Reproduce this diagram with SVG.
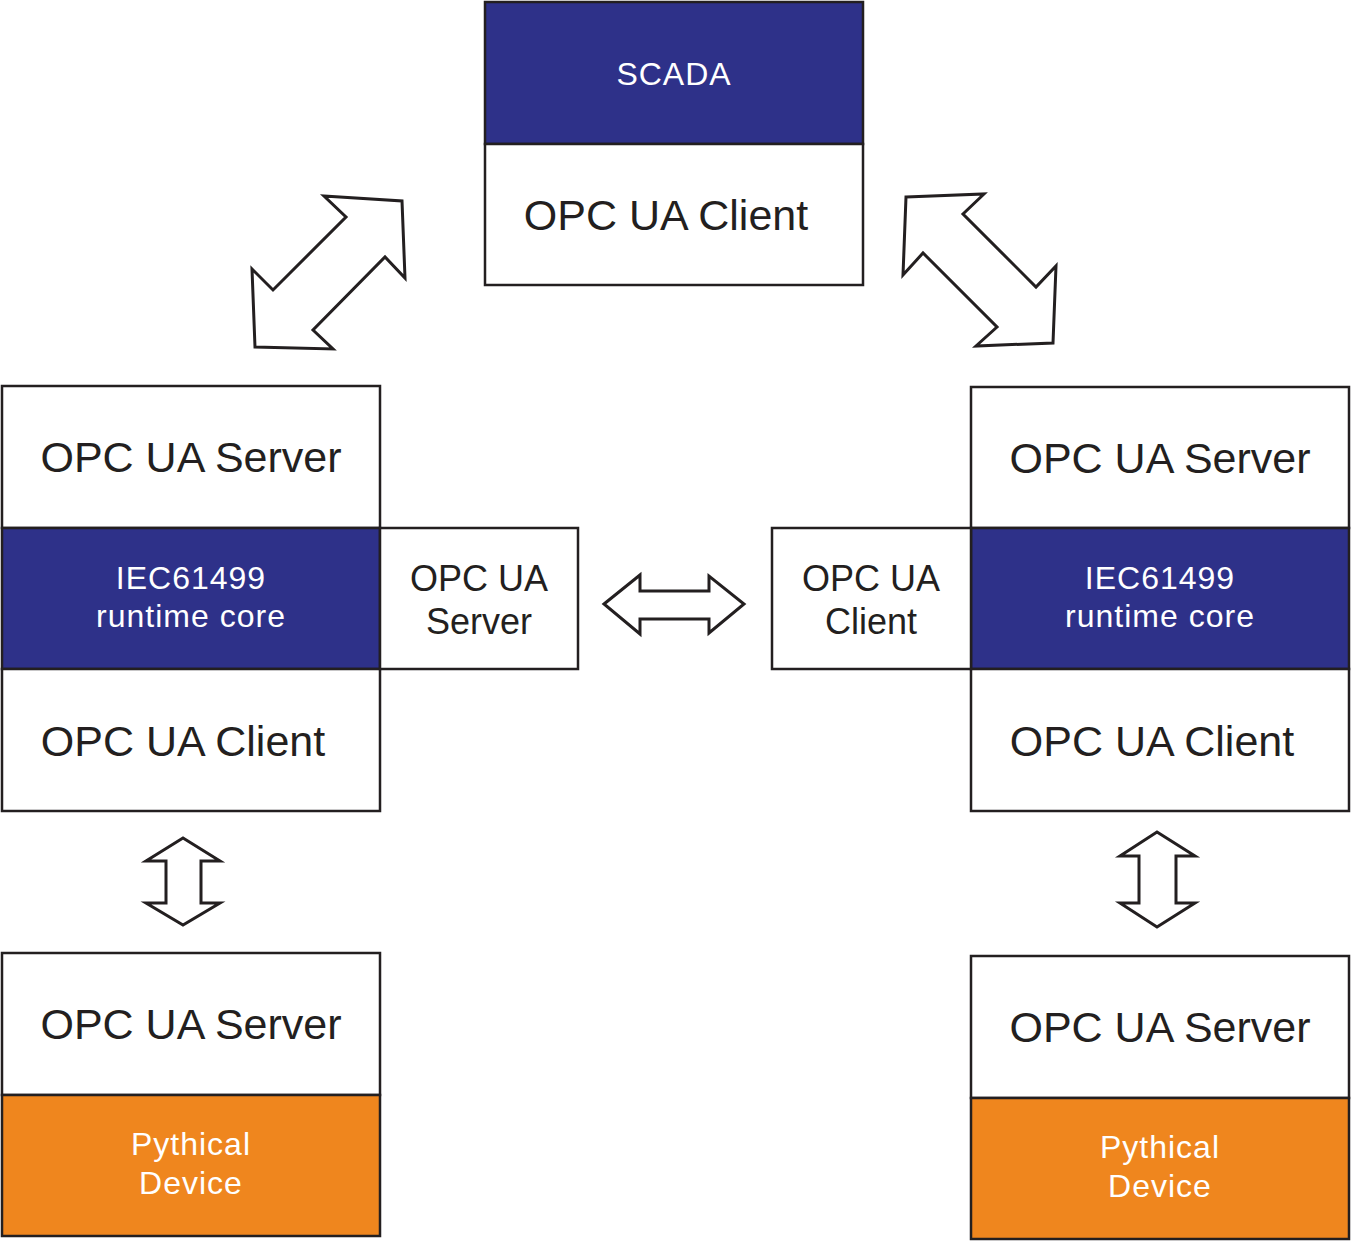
<svg xmlns="http://www.w3.org/2000/svg" width="1351" height="1241" viewBox="0 0 1351 1241">
<style>
.b{fill:#fff;stroke:#231f20;stroke-width:2.5}
.n{fill:#2e3189;stroke:#231f20;stroke-width:2.5}
.o{fill:#ef861e;stroke:#231f20;stroke-width:2.5}
.a{fill:#fff;stroke:#231f20;stroke-width:3;stroke-linejoin:miter}
text{font-family:"Liberation Sans",Arial,sans-serif;text-anchor:middle}
.t{font-size:43px;fill:#231f20}
.m{font-size:36px;fill:#231f20}
.w{font-size:32px;fill:#fff;letter-spacing:1px}
</style>
<rect width="1351" height="1241" fill="#fff"/>
<g id="scada"><rect class="n" x="485" y="2" width="378" height="142"/><text class="w" x="674" y="85">SCADA</text></g>
<g id="scada-client"><rect class="b" x="485" y="144" width="378" height="141"/><text class="t" x="666" y="230">OPC UA Client</text></g>
<g id="l-server"><rect class="b" x="2" y="386" width="378" height="142"/><text class="t" x="191" y="472">OPC UA Server</text></g>
<g id="l-core"><rect class="n" x="2" y="528" width="378" height="141"/><text class="w" x="191" y="589">IEC61499</text><text class="w" x="191" y="627">runtime core</text></g>
<g id="l-client"><rect class="b" x="2" y="669" width="378" height="142"/><text class="t" x="183" y="756">OPC UA Client</text></g>
<g id="l-small"><rect class="b" x="380" y="528" width="198" height="141"/><text class="m" x="479" y="591">OPC UA</text><text class="m" x="479" y="634">Server</text></g>
<g id="lb-server"><rect class="b" x="2" y="953" width="378" height="142"/><text class="t" x="191" y="1039">OPC UA Server</text></g>
<g id="lb-device"><rect class="o" x="2" y="1095" width="378" height="141"/><text class="w" x="191" y="1155">Pythical</text><text class="w" x="191" y="1194">Device</text></g>
<g id="r-server"><rect class="b" x="971" y="387" width="378" height="141"/><text class="t" x="1160" y="473">OPC UA Server</text></g>
<g id="r-core"><rect class="n" x="971" y="528" width="378" height="141"/><text class="w" x="1160" y="589">IEC61499</text><text class="w" x="1160" y="627">runtime core</text></g>
<g id="r-client"><rect class="b" x="971" y="669" width="378" height="142"/><text class="t" x="1152" y="756">OPC UA Client</text></g>
<g id="r-small"><rect class="b" x="772" y="528" width="199" height="141"/><text class="m" x="871" y="591">OPC UA</text><text class="m" x="871" y="634">Client</text></g>
<g id="rb-server"><rect class="b" x="971" y="956" width="378" height="142"/><text class="t" x="1160" y="1042">OPC UA Server</text></g>
<g id="rb-device"><rect class="o" x="971" y="1098" width="378" height="141"/><text class="w" x="1160" y="1158">Pythical</text><text class="w" x="1160" y="1197">Device</text></g>
<g id="connectors">
<polygon class="a" points="324,196 402,201 405,278 385,257 313,330 333,349 255,347 252,269 273,290 346,217"/>
<polygon class="a" points="906,197 984,194 963,214 1036,287 1056,266 1053,343 976,346 997,327 923,253 903,275"/>
<polygon class="a" points="604,604 640,575 640,591 709,591 709,576 744,604 709,633 709,619 640,619 640,634"/>
<polygon class="a" points="183,838 220,861 201,861 201,903 220,903 183,925 146,903 166,903 166,861 146,861"/>
<polygon class="a" points="1157,832 1195,856 1176,856 1176,903 1195,903 1157,927 1120,903 1139,903 1139,856 1120,856"/>
</g>
</svg>
